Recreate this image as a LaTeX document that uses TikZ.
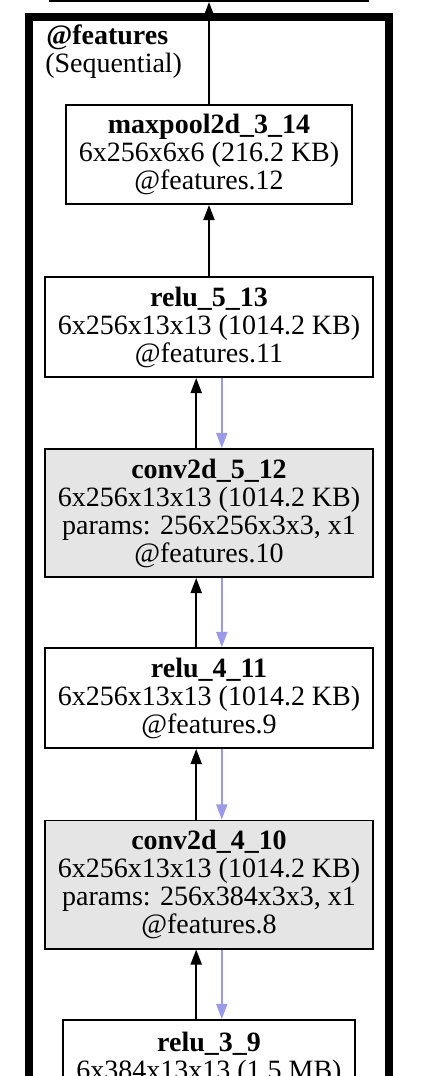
\documentclass[tikz,border=0pt]{standalone}
\usepackage{fontspec}
\setmainfont{Liberation Serif}
\usetikzlibrary{arrows.meta}
\definecolor{gradblue}{HTML}{9A9AE8}
\definecolor{paramgray}{HTML}{E5E5E5}

\begin{document}
\begin{tikzpicture}[
    x=0.025cm, y=-0.025cm,              % 1 unit = 1 px, y grows downwards
    dx/.store in=\DX, dx=0.32cm,        % side offset of the paired edges
    layer/.style={draw, line width=1.4pt, inner sep=0pt, align=center,
      font=\fontsize{19.9}{19.9}\selectfont,
      minimum width=8.2cm, minimum height=2.5cm},
    paramlayer/.style={layer, fill=paramgray, minimum height=3.2cm},
    edgeblk/.style={draw=black, line width=1.2pt,
      -{Triangle[length=0.38cm, width=0.28cm]}},
    edgeblue/.style={draw=gradblue, line width=1.2pt,
      -{Triangle[length=0.38cm, width=0.28cm]}},
  ]
  \useasboundingbox (0,0) rectangle (420,1076);
  \clip (0,0) rectangle (420,1076);

  % Helper macro: \edgepair{lower}{upper}
  % forward edge upwards (black), gradient edge downwards (blue)
  \newcommand{\edgepair}[2]{%
    \draw[edgeblk] ([xshift=-\DX]#1.north) -- ([xshift=-\DX]#2.south);
    \draw[edgeblue] ([xshift=\DX]#2.south) -- ([xshift=\DX]#1.north);
  }

  % Module frame
  \draw[line width=0.2cm] (29,17) rectangle (389,1200);
  \node[font=\fontsize{19.9}{19.9}\selectfont\bfseries, anchor=base west, inner sep=0pt]
    (featlbl) at (46,45) {@features};
  \node[font=\fontsize{19.9}{19.9}\selectfont, anchor=base west, inner sep=0pt]
    (seqlbl) at (45,73) {(Sequential)};

  % Layer above the module (only its bottom edge shows)
  \node[layer, minimum width=7.95cm, minimum height=2.55cm] (prev) at (209,-50) {};

  % Layers
  \node[layer, minimum width=7.15cm, minimum height=2.475cm] (maxpool) at (209,154.5)
    {\textbf{maxpool2d\_3\_14}\\6x256x6x6 (216.2 KB)\\@features.12};
  \node[layer] (relu513) at (209,327)
    {\textbf{relu\_5\_13}\\6x256x13x13 (1014.2 KB)\\@features.11};
  \node[paramlayer] (conv512) at (209,513)
    {\textbf{conv2d\_5\_12}\\6x256x13x13 (1014.2 KB)\\params: 256x256x3x3, x1\\@features.10};
  \node[layer] (relu411) at (209,698)
    {\textbf{relu\_4\_11}\\6x256x13x13 (1014.2 KB)\\@features.9};
  \node[paramlayer] (conv410) at (209,884.5)
    {\textbf{conv2d\_4\_10}\\6x256x13x13 (1014.2 KB)\\params: 256x384x3x3, x1\\@features.8};
  % cut off by the page edge: third line left blank
  \node[layer, minimum width=7.3cm] (relu39) at (209,1070)
    {\textbf{relu\_3\_9}\\6x384x13x13 (1.5 MB)\\\mbox{}};

  % Edges
  \draw[edgeblk] (maxpool.north) -- (prev.south);
  \draw[edgeblk] (relu513.north) -- (maxpool.south);
  \edgepair{conv512}{relu513}
  \edgepair{relu411}{conv512}
  \edgepair{conv410}{relu411}
  \edgepair{relu39}{conv410}
\end{tikzpicture}
\end{document}
